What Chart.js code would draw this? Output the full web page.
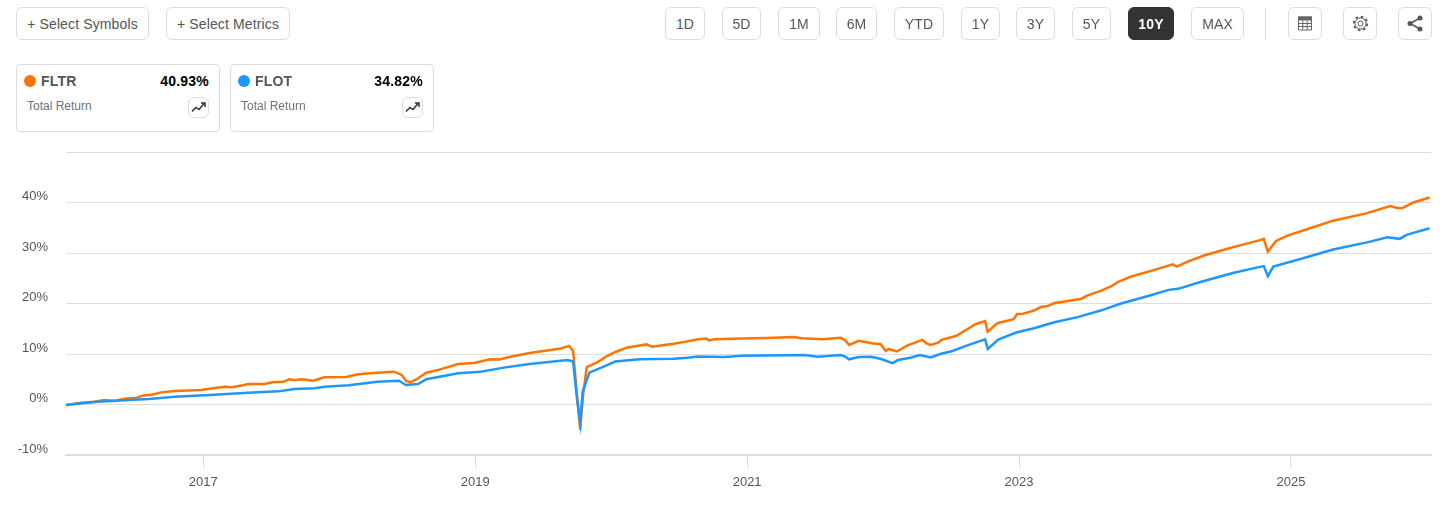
<!DOCTYPE html>
<html>
<head>
<meta charset="utf-8">
<title>FLTR vs FLOT</title>
<script src="https://cdn.jsdelivr.net/npm/chart.js@4"></script>
<style>
html, body { margin: 0; padding: 0; background: #fff; }
body { width: 1447px; height: 510px; position: relative; overflow: hidden; font-family: "Liberation Sans", Arial, sans-serif; color: #555; }
canvas { position: absolute; left: 0; top: 0; }
.btn { position: absolute; top: 7px; height: 31px; line-height: 32px; border: 1px solid #dcdcdc; border-radius: 6px; text-align: center; font-size: 14px; letter-spacing: 0.13px; color: #555; background: #fff; }
.btn.on { background: #333; border-color: #333; color: #fff; font-weight: bold; }
.sep { position: absolute; left: 1265px; top: 8px; width: 1px; height: 32px; background: #dcdcdc; }
.card { position: absolute; top: 64px; width: 202px; height: 66px; border: 1px solid #dcdcdc; border-radius: 4px; background: #fff; }
.dot { position: absolute; left: 7px; top: 10px; width: 12px; height: 12px; border-radius: 50%; }
.sym { position: absolute; left: 24px; top: 8px; font-size: 14px; font-weight: bold; letter-spacing: 0.2px; color: #555; }
.pct { position: absolute; right: 10px; top: 8px; font-size: 14px; font-weight: bold; letter-spacing: 0.2px; color: #000; }
.lbl { position: absolute; left: 10px; top: 34px; font-size: 12px; color: #6b7280; }
.trend { position: absolute; right: 10px; top: 32px; width: 19px; height: 19px; border: 1px solid #dcdcdc; border-radius: 6px; }
.btn svg, .trend svg { display: block; margin: auto; height: 100%; }
</style>
</head>
<body>
<canvas id="chart" width="1447" height="510"></canvas>

<div class="btn" style="left:16px;width:131px">+ Select Symbols</div>
<div class="btn" style="left:166px;width:122px">+ Select Metrics</div>

<div id="ranges"></div>
<div class="sep"></div>

<div class="btn" style="left:1288px;width:32px"><svg width="16" viewBox="0 0 16 16"><path d="M1.500 1.500h13v13h-13z" fill="none" stroke="#666" stroke-width="1"/><path d="M1 1h14v4H1z" fill="#666"/><path d="M1.500 8h13M1.500 11h13M5.800 5v9M10.200 5v9" stroke="#666" stroke-width="1"/></svg></div>
<div class="btn" style="left:1343px;width:32px"><svg width="17" viewBox="0 0 17 17"><circle cx="8.500" cy="8.500" r="2.500" fill="none" stroke="#555"/><circle cx="8.500" cy="8.500" r="5.500" fill="none" stroke="#555"/><circle cx="8.500" cy="8.500" r="6.800" fill="none" stroke="#555" stroke-width="1.800" stroke-dasharray="2.600 2.740"/></svg></div>
<div class="btn" style="left:1398px;width:32px"><svg width="18" viewBox="0 0 18 18"><path d="M14 3.500L4 9l10 5.500" fill="none" stroke="#555" stroke-width="1.500"/><circle cx="14" cy="3.500" r="2.500" fill="#555"/><circle cx="4" cy="9" r="2.500" fill="#555"/><circle cx="14" cy="14.500" r="2.500" fill="#555"/></svg></div>

<div class="card" style="left:16px">
  <div class="dot" style="background:#ff7300"></div><div class="sym">FLTR</div><div class="pct">40.93%</div>
  <div class="lbl">Total Return</div>
  <div class="trend"><svg width="16" viewBox="0 0 16 16"><path d="M1 12l4-4 3 2 5-6M10 3.500h4v4" fill="none" stroke="#333" stroke-width="1.500"/></svg></div>
</div>
<div class="card" style="left:230px">
  <div class="dot" style="background:#1e96fa"></div><div class="sym">FLOT</div><div class="pct">34.82%</div>
  <div class="lbl">Total Return</div>
  <div class="trend"><svg width="16" viewBox="0 0 16 16"><path d="M1 12l4-4 3 2 5-6M10 3.500h4v4" fill="none" stroke="#333" stroke-width="1.500"/></svg></div>
</div>

<script>
// range buttons
const rangeLabels = ['1D', '5D', '1M', '6M', 'YTD', '1Y', '3Y', '5Y', '10Y', 'MAX'];
const rangeLeft = [665, 722, 778, 836, 894, 961, 1016, 1072, 1128, 1191];
const rangeWidth = [38, 37, 40, 39, 48, 37, 37, 37, 44, 51];

// values, x is in decimal years
const fltrDates = [2015.99, 2016.10, 2016.20, 2016.27, 2016.35, 2016.42, 2016.51, 2016.56, 2016.62, 2016.69, 2016.79, 2016.985,
    2017.10, 2017.16, 2017.21, 2017.29, 2017.33, 2017.45, 2017.51, 2017.59, 2017.63, 2017.67, 2017.72, 2017.81, 2017.89,
    2018.05, 2018.14, 2018.28, 2018.40, 2018.46, 2018.49, 2018.52, 2018.57, 2018.64, 2018.73, 2018.875, 2018.99,
    2019.11, 2019.18, 2019.25, 2019.40, 2019.63, 2019.69, 2019.72, 2019.745, 2019.772, 2019.794, 2019.82, 2019.90, 2019.97,
    2020.03, 2020.12, 2020.21, 2020.26, 2020.30, 2020.46, 2020.54, 2020.64, 2020.70, 2020.72, 2020.76, 2020.96,
    2021.15, 2021.34, 2021.40, 2021.56, 2021.69, 2021.72, 2021.75, 2021.82, 2021.93, 2021.98,
    2022.02, 2022.04, 2022.10, 2022.18, 2022.29, 2022.32, 2022.35, 2022.41, 2022.43, 2022.54, 2022.63, 2022.68, 2022.75, 2022.77, 2022.84, 2022.96, 2022.985,
    2023.02, 2023.11, 2023.16, 2023.21, 2023.26, 2023.36, 2023.46, 2023.50, 2023.60, 2023.68, 2023.73, 2023.82, 2023.99,
    2024.13, 2024.16, 2024.24, 2024.36, 2024.54, 2024.68, 2024.78, 2024.80, 2024.83, 2024.89, 2024.97,
    2025.14, 2025.31, 2025.56, 2025.73, 2025.78, 2025.82, 2025.90, 2026.02];
const fltrValues = [-0.1, 0.35, 0.55, 0.9, 0.7, 1.15, 1.35, 1.8, 1.95, 2.4, 2.65, 2.87,
    3.3, 3.5, 3.4, 3.8, 4.05, 4.05, 4.4, 4.5, 5.0, 4.8, 5.0, 4.7, 5.4,
    5.45, 6.0, 6.3, 6.5, 5.85, 4.7, 4.4, 5.0, 6.3, 6.85, 8.0, 8.2,
    8.95, 8.9, 9.4, 10.2, 11.1, 11.6, 10.6, 3.0, -5.0, 2.0, 7.4, 8.4, 9.6,
    10.4, 11.3, 11.7, 11.9, 11.45, 12.05, 12.4, 12.9, 13.05, 12.7, 12.9, 13.05,
    13.15, 13.35, 13.1, 12.9, 13.2, 12.75, 11.8, 12.6, 12.1, 12.0,
    10.6, 11.0, 10.5, 11.7, 12.8, 12.1, 11.8, 12.3, 12.8, 13.6, 15.1, 15.9, 16.5, 14.4, 16.1, 16.9, 17.9,
    17.9, 18.6, 19.3, 19.5, 20.1, 20.5, 20.95, 21.55, 22.5, 23.45, 24.3, 25.3, 26.6,
    27.75, 27.3, 28.3, 29.5, 30.9, 31.9, 32.6, 32.8, 30.3, 32.4, 33.4,
    34.9, 36.4, 37.9, 39.3, 38.9, 38.9, 40.0, 41.0];

const flotDates = [2015.99, 2016.20, 2016.35, 2016.60, 2016.79,
    2017.08, 2017.33, 2017.55, 2017.67, 2017.82, 2017.89,
    2018.07, 2018.28, 2018.44, 2018.49, 2018.58, 2018.64, 2018.875,
    2019.04, 2019.21, 2019.40, 2019.68, 2019.72, 2019.745, 2019.772, 2019.79, 2019.84, 2019.97,
    2020.03, 2020.21, 2020.46, 2020.56, 2020.64, 2020.83, 2020.96,
    2021.42, 2021.52, 2021.69, 2021.72, 2021.75, 2021.82, 2021.91, 2021.98,
    2022.07, 2022.11, 2022.21, 2022.27, 2022.35, 2022.42, 2022.51, 2022.63, 2022.75, 2022.77, 2022.85, 2022.985,
    2023.11, 2023.26, 2023.43, 2023.60, 2023.75, 2023.95,
    2024.10, 2024.17, 2024.34, 2024.58, 2024.78, 2024.80, 2024.83, 2024.87,
    2025.07, 2025.31, 2025.56, 2025.71, 2025.80, 2025.85, 2026.02];
const flotValues = [-0.1, 0.5, 0.75, 1.1, 1.55,
    1.95, 2.35, 2.6, 3.05, 3.2, 3.5,
    3.8, 4.5, 4.7, 3.85, 4.05, 5.0, 6.2,
    6.5, 7.3, 8.0, 8.8, 8.5, 2.0, -3.7, 2.5, 6.3, 7.8,
    8.5, 8.95, 9.05, 9.25, 9.5, 9.4, 9.65,
    9.8, 9.45, 9.8, 9.5, 8.95, 9.4, 9.45, 9.05,
    8.2, 8.8, 9.3, 9.8, 9.3, 10.0, 10.6, 11.8, 12.9, 11.0, 12.9, 14.3,
    15.1, 16.3, 17.3, 18.6, 20.0, 21.5,
    22.7, 22.9, 24.3, 26.1, 27.3, 27.4, 25.4, 27.3,
    28.8, 30.7, 32.1, 33.1, 32.8, 33.6, 34.9];

const yearTicks = [2017, 2019, 2021, 2023, 2025];

const rangesEl = document.getElementById('ranges');
rangeLabels.forEach((label, i) => {
    const b = document.createElement('div');
    b.className = label === '10Y' ? 'btn on' : 'btn';
    b.style.left = rangeLeft[i] + 'px';
    b.style.width = rangeWidth[i] + 'px';
    b.textContent = label;
    rangesEl.appendChild(b);
});

function points(dates, values) {
    return dates.map((d, i) => ({ x: d, y: values[i] }));
}

new Chart(document.getElementById('chart'), {
    type: 'line',
    data: {
        datasets: [
            { label: 'FLTR', data: points(fltrDates, fltrValues), borderColor: '#ff7300', order: 2 },
            { label: 'FLOT', data: points(flotDates, flotValues), borderColor: '#1e96fa', order: 1 }
        ]
    },
    options: {
        responsive: false,
        animation: false,
        layout: { padding: { top: 152, right: 16 } },
        elements: { point: { radius: 0 }, line: { borderWidth: 2.5, tension: 0 } },
        plugins: { legend: { display: false }, tooltip: { enabled: false } },
        scales: {
            x: {
                type: 'linear',
                min: 2015.99,
                max: 2026.03,
                afterFit: (s) => { s.height = 55; },
                afterBuildTicks: (s) => { s.ticks = yearTicks.map((v) => ({ value: v })); },
                border: { color: '#dddddd', width: 2 },
                grid: { drawOnChartArea: false, tickLength: 12, tickColor: '#dddddd' },
                ticks: {
                    autoSkip: false,
                    maxRotation: 0,
                    padding: 8,
                    color: '#555',
                    font: { family: '"Liberation Sans", Arial, sans-serif', size: 13 },
                    callback: (v) => String(v)
                }
            },
            y: {
                min: -10,
                max: 50,
                afterFit: (s) => { s.width = 66; },
                border: { display: false },
                grid: { color: '#dddddd', drawTicks: false },
                ticks: {
                    stepSize: 10,
                    padding: 18,
                    labelOffset: -6,
                    color: '#555',
                    font: { family: '"Liberation Sans", Arial, sans-serif', size: 13 },
                    callback: (v) => (v === 50 ? '' : v + '%')
                }
            }
        }
    }
});
</script>
</body>
</html>
